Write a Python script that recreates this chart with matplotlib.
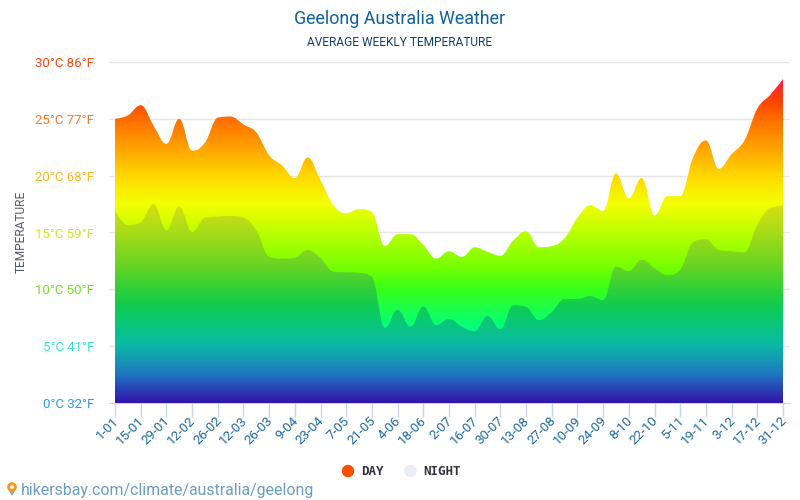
import numpy as np
import matplotlib
matplotlib.use("Agg")
import matplotlib.pyplot as plt
from matplotlib.colors import LinearSegmentedColormap
from matplotlib.patches import Circle, PathPatch
from matplotlib.path import Path
from matplotlib.transforms import ScaledTranslation

plt.rcParams['font.family'] = ['Roboto', 'DejaVu Sans']

# Weekly values, one per week of the year (deg C)
day_temp = [25.0, 25.3, 26.2, 24.4, 22.8, 25.0, 22.2, 22.9, 25.1, 25.2, 24.5, 23.8, 21.8, 20.9,
            19.8, 21.6, 19.6, 17.4, 16.7, 17.05, 16.8, 13.8, 14.85, 14.85, 13.9, 12.7, 13.35,
            12.85, 13.7, 13.3, 12.95, 14.3, 15.1, 13.7, 13.8, 14.5, 16.3, 17.4, 16.9, 20.2,
            18.0, 19.8, 16.5, 18.2, 18.2, 21.6, 23.1, 20.6, 21.9, 23.1, 25.9, 27.1, 28.5]
night_temp = [16.9, 15.65, 15.9, 17.5, 15.2, 17.3, 15.05, 16.3, 16.4, 16.45, 16.3, 15.2, 12.85,
              12.7, 12.8, 13.45, 12.75, 11.55, 11.5, 11.45, 11.1, 6.6, 8.2, 6.7, 8.5, 6.85, 7.4,
              6.7, 6.3, 7.65, 6.5, 8.6, 8.45, 7.3, 8.0, 9.15, 9.15, 9.4, 9.05, 12.0, 11.6, 12.6,
              11.85, 11.25, 11.75, 14.15, 14.4, 13.45, 13.35, 13.25, 15.65, 17.15, 17.35]
week_labels = ['1-01', '15-01', '29-01', '12-02', '26-02', '12-03', '26-03', '9-04', '23-04',
               '7-05', '21-05', '4-06', '18-06', '2-07', '16-07', '30-07', '13-08', '27-08',
               '10-09', '24-09', '8-10', '22-10', '5-11', '19-11', '3-12', '17-12', '31-12']
y_ticks = [0, 5, 10, 15, 20, 25, 30]
y_labels = ['0°C 32°F', '5°C 41°F', '10°C 50°F', '15°C 59°F', '20°C 68°F', '25°C 77°F', '30°C 86°F']
y_colors = ['#2b9fd8', '#2fe6d2', '#7be01c', '#c8ec1e', '#ffb81a', '#ff7a1a', '#ff4a10']

# colour stops as (temperature / 30, colour)
day_cmap = LinearSegmentedColormap.from_list('day', [
    (0.0, '#3316ac'), (2 / 30, '#1f5cc0'), (5 / 30, '#0cc4b0'), (6.5 / 30, '#00ff80'),
    (10 / 30, '#38ff18'), (12 / 30, '#78ff00'), (15 / 30, '#bcff00'), (17.5 / 30, '#f4ff00'),
    (20 / 30, '#ffd800'), (22 / 30, '#ffac00'), (25 / 30, '#ff6c00'), (26.5 / 30, '#ff4400'),
    (27.5 / 30, '#ff3020'), (28.5 / 30, '#ff2040'), (1.0, '#ff1a4a')])
night_cmap = LinearSegmentedColormap.from_list('night', [
    (0.0, '#3316ac'), (1 / 30, '#2a3cb4'), (2.5 / 30, '#1f78c0'), (5 / 30, '#0cb8a8'),
    (7 / 30, '#0ac878'), (8.5 / 30, '#10cc50'), (10 / 30, '#30d038'), (12 / 30, '#68d424'),
    (15 / 30, '#a8dc18'), (17.5 / 30, '#d8e014'), (1.0, '#d8e014')])


def spline_path(x, y):
    # closed bezier area down to zero, same smoothing rule as the original areaspline
    n = len(x)
    left = np.zeros((n, 2))
    right = np.zeros((n, 2))
    left[0] = x[0], y[0]
    right[0] = x[0], y[0]
    left[-1] = x[-1], y[-1]
    right[-1] = x[-1], y[-1]
    for i in range(1, n - 1):
        lx = (1.5 * x[i] + x[i - 1]) / 2.5
        ly = (1.5 * y[i] + y[i - 1]) / 2.5
        rx = (1.5 * x[i] + x[i + 1]) / 2.5
        ry = (1.5 * y[i] + y[i + 1]) / 2.5
        corr = (ry - ly) * (rx - x[i]) / (rx - lx) + y[i] - ry
        ly += corr
        ry += corr
        # keep the handles inside the neighbouring values
        if ly > max(y[i - 1], y[i]):
            ly = max(y[i - 1], y[i])
            ry = 2 * y[i] - ly
        elif ly < min(y[i - 1], y[i]):
            ly = min(y[i - 1], y[i])
            ry = 2 * y[i] - ly
        if ry > max(y[i], y[i + 1]):
            ry = max(y[i], y[i + 1])
            ly = 2 * y[i] - ry
        elif ry < min(y[i], y[i + 1]):
            ry = min(y[i], y[i + 1])
            ly = 2 * y[i] - ry
        left[i] = lx, ly
        right[i] = rx, ry
    verts = [(x[0], 0), (x[0], y[0])]
    codes = [Path.MOVETO, Path.LINETO]
    for i in range(1, n):
        verts += [tuple(right[i - 1]), tuple(left[i]), (x[i], y[i])]
        codes += [Path.CURVE4] * 3
    verts += [(x[-1], 0), (x[0], 0)]
    codes += [Path.LINETO, Path.CLOSEPOLY]
    return Path(verts, codes)


def gradient_area(ax, x, y, cmap, zorder):
    ramp = np.linspace(0, 1, 600)[:, None]
    im = ax.imshow(ramp, extent=(x[0], x[-1], 0, 30), origin='lower', aspect='auto', cmap=cmap,
                   vmin=0, vmax=1, zorder=zorder, interpolation='bilinear')
    patch = PathPatch(spline_path(x, y), transform=ax.transData, fc='none', ec='none')
    ax.add_patch(patch)
    im.set_clip_path(patch)


def px_x(v):
    return v / 800


def px_y(v):
    return 1 - v / 500


fig = plt.figure(figsize=(8, 5), dpi=100)
ax = fig.add_axes([109 / 800, 97 / 500, 681 / 800, 341 / 500])

weeks = np.arange(len(day_temp), dtype=float)
gradient_area(ax, weeks, np.array(day_temp), day_cmap, 2)
gradient_area(ax, weeks, np.array(night_temp), night_cmap, 3)

ax.set_xlim(-0.467, 52.545)
ax.set_ylim(0, 30)

ax.set_yticks(y_ticks)
ax.set_yticklabels(y_labels, fontsize=9.5)
for lab, col in zip(ax.get_yticklabels(), y_colors):
    lab.set_color(col)
ax.tick_params(axis='y', length=0, pad=10.7)
ax.grid(axis='y', color='#e6e6e6', linewidth=1, zorder=1)
ax.set_axisbelow(True)

ax.set_xticks(weeks[::2])
ax.set_xticklabels(week_labels, fontsize=9.6, color='#1f6aa5', rotation=45, ha='right',
                   va='top', rotation_mode='anchor')
ax.tick_params(axis='x', length=10, width=1, color='#ccd6eb', pad=-2)
# the rotated labels sit a little left of what the anchor gives
shift = ScaledTranslation(-3 / 100, 0, fig.dpi_scale_trans)
for lab in ax.get_xticklabels():
    lab.set_transform(lab.get_transform() + shift)

for side in ['top', 'left', 'right']:
    ax.spines[side].set_visible(False)
ax.spines['bottom'].set_color('#ccd6eb')

fig.text(px_x(400), px_y(19), 'Geelong Australia Weather', fontsize=12.9, color='#0f619e',
         ha='center', va='center')
fig.text(px_x(400), px_y(42), 'AVERAGE WEEKLY TEMPERATURE', fontsize=8.6, color='#10426f',
         ha='center', va='center')
fig.text(px_x(21), px_y(232), 'TEMPERATURE', fontsize=8.6, color='#4d5a70', rotation=90,
         ha='center', va='center')

# legend and footer sit in figure pixels
bg = fig.add_axes([0, 0, 1, 1], zorder=-1)
bg.set_xlim(0, 800)
bg.set_ylim(500, 0)
bg.axis('off')
bg.add_patch(Circle((348, 471), 6.2, fc='#ff4e00', ec='none'))
bg.add_patch(Circle((410.5, 471), 6.2, fc='#e8eef3', ec='none'))
fig.text(px_x(361), px_y(471.5), 'DAY', fontsize=9, family='DejaVu Sans Mono', weight='bold',
         color='#333340', ha='left', va='center')
fig.text(px_x(423), px_y(471.5), 'NIGHT', fontsize=9, family='DejaVu Sans Mono', weight='bold',
         color='#333340', ha='left', va='center')

bg.fill([8, 16, 12], [489, 489, 496], color='#8fa8a8', lw=0)
bg.add_patch(Circle((12, 487), 4.8, fc='#f39a1f', ec='none'))
bg.add_patch(Circle((12, 487), 1.9, fc='white', ec='none'))
fig.text(px_x(20.5), px_y(490), 'hikersbay.com/climate/australia/geelong', fontsize=11.4,
         color='#6b9ec2', ha='left', va='center')

plt.savefig('out.png', dpi=100)
